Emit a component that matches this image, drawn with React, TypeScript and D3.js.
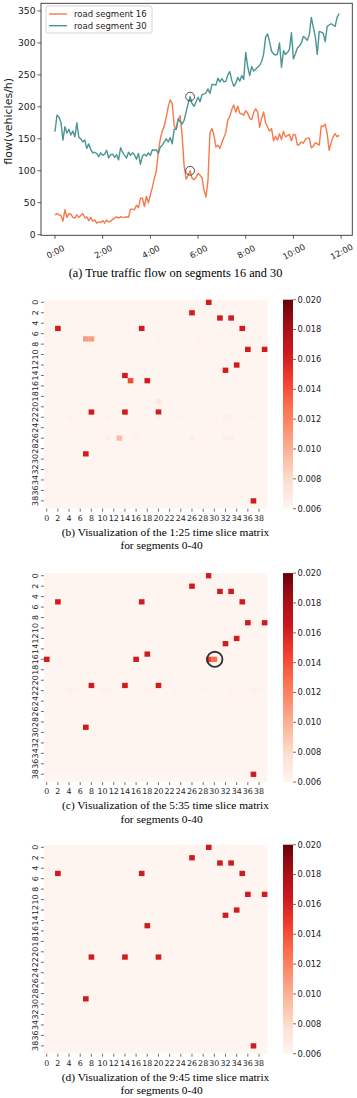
import React from 'react';
import * as d3 from 'd3';

// ---------- DATA ----------
const seriesNames = ['road segment 16', 'road segment 30'];
const stepMinutes = 5;
const timeTickHours = [0, 2, 4, 6, 8, 10, 12];
const timeTickLabels = ['0:00', '2:00', '4:00', '6:00', '8:00', '10:00', '12:00'];
const flowTicks = [0, 50, 100, 150, 200, 250, 300, 350];

const seg16 = [
  31, 33, 31, 30, 21, 39, 27, 33, 32, 27,
  26, 31, 27, 30, 33, 26, 28, 22, 27, 21,
  23, 18, 20, 19, 22, 18, 23, 20, 21, 24,
  26, 28, 26, 28, 27, 27, 28, 27, 40, 40,
  39, 46, 42, 57, 57, 44, 60, 50, 62, 74,
  88, 100, 128, 150, 162, 170, 184, 200, 211, 205,
  170, 165, 180, 186, 155, 108, 87, 93, 100, 88,
  86, 90, 96, 93, 89, 70, 59, 85, 159, 166,
  156, 137, 140, 135, 144, 152, 160, 180, 185, 196,
  203, 192, 201, 190, 189, 187, 194, 190, 182, 180,
  191, 197, 192, 168, 182, 192, 175, 168, 162, 166,
  147, 154, 148, 158, 149, 162, 153, 155, 157, 147,
  157, 156, 140, 141, 145, 143, 149, 151, 151, 136,
  138, 144, 142, 140, 170, 169, 173, 158, 132, 144,
  153, 158, 153, 156,
];

const seg30 = [
  161, 187, 184, 176, 148, 169, 159, 165, 156, 162,
  153, 175, 152, 150, 145, 148, 135, 142, 133, 128,
  129, 127, 122, 128, 124, 126, 132, 120, 125, 126,
  121, 125, 117, 136, 129, 124, 120, 129, 124, 128,
  125, 118, 127, 110, 123, 126, 123, 128, 124, 133,
  132, 133, 127, 137, 140, 145, 150, 145, 152, 142,
  165, 165, 181, 177, 173, 179, 192, 205, 216, 205,
  201, 208, 215, 208, 219, 220, 222, 228, 221, 235,
  235, 234, 245, 239, 244, 239, 240, 250, 255, 241,
  232, 237, 246, 240, 249, 243, 285, 263, 249, 263,
  256, 259, 262, 265, 271, 282, 309, 314, 302, 287,
  283, 281, 283, 300, 262, 288, 282, 285, 290, 316,
  275, 283, 292, 295, 300, 310, 308, 304, 313, 340,
  325, 310, 282, 318, 317, 315, 302, 326, 328, 330,
  328, 326, 340, 346,
];

const circledIndex = 68; // 5:40

const segmentCount = 40;
const segTicks = [0, 2, 4, 6, 8, 10, 12, 14, 16, 18, 20, 22, 24, 26, 28, 30, 32, 34, 36, 38];
const colorTicks = [0.006, 0.008, 0.01, 0.012, 0.014, 0.016, 0.018, 0.02];
const colorDomain = [0.006, 0.02];
const baseValue = 0.005;
const redsStops = ['#fff5f0', '#fee0d2', '#fcbba1', '#fc9272', '#fb6a4a', '#ef3b2c', '#cb181d', '#a50f15', '#67000d'];

// [row, col, value]
const slice0125: [number, number, number][] = [
  [0, 29, 0.0163], [2, 26, 0.0163], [3, 31, 0.0163], [3, 33, 0.0163],
  [5, 2, 0.0163], [5, 17, 0.0163], [5, 35, 0.0163], [7, 7, 0.0109], [7, 8, 0.0109],
  [9, 36, 0.0163], [9, 39, 0.0163], [12, 34, 0.0163], [13, 32, 0.0163],
  [14, 14, 0.0163], [15, 15, 0.0142], [15, 18, 0.0163], [19, 20, 0.0072],
  [21, 8, 0.0163], [21, 14, 0.0163], [21, 20, 0.0163], [26, 13, 0.0095],
  [29, 7, 0.0163], [38, 37, 0.0163],
  [7, 20, 0.0063], [7, 27, 0.0063], [22, 4, 0.0064], [22, 11, 0.0064], [22, 16, 0.0063],
  [22, 20, 0.0064], [22, 24, 0.0063], [22, 30, 0.0063], [22, 32, 0.0065], [22, 33, 0.0064],
  [22, 37, 0.0063], [26, 11, 0.0065], [26, 16, 0.0064], [26, 26, 0.0066], [26, 32, 0.0066],
  [26, 33, 0.0065],
];

const slice0535: [number, number, number][] = [
  [0, 29, 0.0163], [0, 30, 0.0064], [2, 26, 0.0163], [3, 31, 0.0163], [3, 33, 0.0163],
  [5, 2, 0.0163], [5, 17, 0.0163], [5, 35, 0.0163], [9, 36, 0.0163], [9, 39, 0.0163],
  [12, 34, 0.0163], [13, 32, 0.0163], [15, 18, 0.0163], [16, 0, 0.0163], [16, 16, 0.0163],
  [16, 29, 0.0145], [16, 30, 0.0128], [21, 8, 0.0163], [21, 14, 0.0163], [21, 20, 0.0163],
  [29, 7, 0.0163], [38, 37, 0.0163],
  [22, 4, 0.0064], [22, 5, 0.0063], [22, 10, 0.0064], [22, 11, 0.0063], [22, 18, 0.0064],
  [22, 19, 0.0063], [22, 23, 0.0063], [22, 28, 0.0063], [22, 33, 0.0063], [22, 37, 0.0064],
  [22, 38, 0.0063],
];

const slice0945: [number, number, number][] = [
  [0, 29, 0.0163], [2, 26, 0.0163], [3, 31, 0.0163], [3, 33, 0.0163],
  [5, 2, 0.0163], [5, 17, 0.0163], [5, 35, 0.0163], [9, 36, 0.0163], [9, 39, 0.0163],
  [12, 34, 0.0163], [13, 32, 0.0163], [15, 18, 0.0163],
  [21, 8, 0.0163], [21, 14, 0.0163], [21, 20, 0.0163], [29, 7, 0.0163], [38, 37, 0.0163],
];

const highlightCell535: [number, number] = [16, 30];

// ---------- STYLE ----------
const TICK_FONT = 'DejaVu Sans';
const SERIF = '"Liberation Serif", "Times New Roman", serif';
const ORANGE = '#f57a4c';
const TEAL = '#4b9494';
const AXIS = '#333';

const colorScale = d3
  .scaleLinear<string>()
  .domain(d3.range(redsStops.length).map((i) => colorDomain[0] + (i * (colorDomain[1] - colorDomain[0])) / (redsStops.length - 1)))
  .range(redsStops)
  .interpolate(d3.interpolateRgb)
  .clamp(true);

function LineChart() {
  const L = 41, R = 352.3, T = 3.3, B = 235.3;
  const x = d3.scaleLinear().domain([-0.587, 12.47]).range([L, R]);
  const y = d3.scaleLinear().domain([-1, 362]).range([B, T]);
  const hourOf = (i: number) => (i * stepMinutes) / 60;
  const line = d3
    .line<number>()
    .x((_, i) => x(hourOf(i)))
    .y((d) => y(d));
  return (
    <g>
      <path d={line(seg16) || ''} fill="none" stroke={ORANGE} strokeWidth={1.4} strokeLinejoin="round" />
      <path d={line(seg30) || ''} fill="none" stroke={TEAL} strokeWidth={1.4} strokeLinejoin="round" />
      <circle cx={x(hourOf(circledIndex))} cy={y(seg30[circledIndex])} r={4.4} fill="none" stroke="#222" strokeWidth={0.8} />
      <circle cx={x(hourOf(circledIndex))} cy={y(seg16[circledIndex])} r={4.4} fill="none" stroke="#222" strokeWidth={0.8} />
      <rect x={L} y={T} width={R - L} height={B - T} fill="none" stroke={AXIS} strokeWidth={0.9} />
      {flowTicks.map((t) => (
        <g key={t}>
          <line x1={L - 3.5} x2={L} y1={y(t)} y2={y(t)} stroke={AXIS} strokeWidth={0.8} />
          <text x={L - 5.5} y={y(t)} dy="0.35em" textAnchor="end" fontFamily={TICK_FONT} fontSize={9.2} fill="#222">
            {t}
          </text>
        </g>
      ))}
      {timeTickHours.map((h, k) => (
        <g key={h}>
          <line x1={x(h)} x2={x(h)} y1={B} y2={B + 3.5} stroke={AXIS} strokeWidth={0.8} />
          <text
            transform={`translate(${x(h) + 0.5},${B + 16.5}) rotate(-28)`}
            textAnchor="middle"
            dy="0.35em"
            fontFamily={TICK_FONT}
            fontSize={8.4}
            fill="#222"
          >
            {timeTickLabels[k]}
          </text>
        </g>
      ))}
      <text
        transform={`translate(8.5,${(T + B) / 2 + 2}) rotate(-90)`}
        textAnchor="middle"
        dy="0.35em"
        fontFamily={TICK_FONT}
        fontSize={11}
        fill="#222"
      >
        flow(vehicles/h)
      </text>
      {/* legend */}
      <rect x={46} y={6} width={106} height={27} rx={2} fill="white" fillOpacity={0.85} stroke="#ccc" strokeWidth={0.8} />
      {seriesNames.map((name, k) => (
        <g key={name}>
          <line x1={49} x2={67} y1={14 + k * 11.7} y2={14 + k * 11.7} stroke={k === 0 ? ORANGE : TEAL} strokeWidth={1.4} />
          <text x={74} y={14 + k * 11.7} dy="0.35em" fontFamily={TICK_FONT} fontSize={8.5} fill="#222">
            {name}
          </text>
        </g>
      ))}
    </g>
  );
}

function Heatmap({ top, entries, highlight, id }: { top: number; entries: [number, number, number][]; highlight?: [number, number]; id: string }) {
  const left = 43.9;
  const W = 223.5;
  const H = 209;
  const idx = d3.range(segmentCount);
  const xb = d3.scaleBand<number>().domain(idx).range([left, left + W]);
  const yb = d3.scaleBand<number>().domain(idx).range([top, top + H]);
  const matrix: number[][] = idx.map(() => idx.map(() => baseValue));
  entries.forEach(([r, c, v]) => {
    matrix[r][c] = v;
  });
  const cells: { r: number; c: number; v: number }[] = [];
  matrix.forEach((row, r) => row.forEach((v, c) => cells.push({ r, c, v })));

  const cbX = 283;
  const cbW = 10;
  const cy = d3.scaleLinear().domain(colorDomain).range([top + H, top]);
  const gradStops = d3.range(0, 1.0001, 0.125);

  return (
    <g>
      <defs>
        <linearGradient id={id} x1="0" y1="1" x2="0" y2="0">
          {gradStops.map((t) => (
            <stop key={t} offset={t} stopColor={colorScale(colorDomain[0] + t * (colorDomain[1] - colorDomain[0]))} />
          ))}
        </linearGradient>
      </defs>
      <rect x={left} y={top} width={W} height={H} fill={colorScale(baseValue)} />
      {cells
        .filter((d) => d.v > baseValue)
        .map((d) => (
          <rect
            key={`${d.r}-${d.c}`}
            x={xb(d.c)}
            y={yb(d.r)}
            width={xb.bandwidth() + 0.05}
            height={yb.bandwidth() + 0.05}
            fill={colorScale(d.v)}
          />
        ))}
      {segTicks.map((t) => (
        <g key={`x${t}`}>
          <line
            x1={(xb(t) as number) + xb.bandwidth() / 2}
            x2={(xb(t) as number) + xb.bandwidth() / 2}
            y1={top + H}
            y2={top + H + 3}
            stroke={AXIS}
            strokeWidth={0.7}
          />
          <text
            x={(xb(t) as number) + xb.bandwidth() / 2}
            y={top + H + 11.8}
            textAnchor="middle"
            fontFamily={TICK_FONT}
            fontSize={7.9}
            fill="#222"
          >
            {t}
          </text>
        </g>
      ))}
      {segTicks.map((t) => (
        <g key={`y${t}`}>
          <line
            x1={left - 3}
            x2={left}
            y1={(yb(t) as number) + yb.bandwidth() / 2}
            y2={(yb(t) as number) + yb.bandwidth() / 2}
            stroke={AXIS}
            strokeWidth={0.7}
          />
          <text
            transform={`translate(${left - 8.5},${(yb(t) as number) + yb.bandwidth() / 2}) rotate(-90)`}
            textAnchor="middle"
            dy="0.35em"
            fontFamily={TICK_FONT}
            fontSize={7.9}
            fill="#222"
          >
            {t}
          </text>
        </g>
      ))}
      {highlight && (
        <circle
          cx={(xb(highlight[1]) as number) + xb.bandwidth() / 2 + 0.5}
          cy={(yb(highlight[0]) as number) + yb.bandwidth() / 2}
          r={7.6}
          fill="none"
          stroke="#333"
          strokeWidth={1.9}
        />
      )}
      <rect x={cbX} y={top} width={cbW} height={H} fill={`url(#${id})`} />
      {colorTicks.map((t) => (
        <g key={`c${t}`}>
          <line x1={cbX + cbW} x2={cbX + cbW + 3} y1={cy(t)} y2={cy(t)} stroke={AXIS} strokeWidth={0.7} />
          <text x={cbX + cbW + 4.5} y={cy(t)} dy="0.35em" fontFamily={TICK_FONT} fontSize={8.3} fill="#222">
            {t.toFixed(3)}
          </text>
        </g>
      ))}
    </g>
  );
}

function Caption({ x, y, text, size = 11.4 }: { x: number; y: number; text: string; size?: number }) {
  return (
    <text x={x} y={y} textAnchor="middle" fontFamily={SERIF} fontSize={size} fill="#000">
      {text}
    </text>
  );
}

export default function App() {
  return (
    <div style={{ position: 'absolute', left: 0, top: 0 }}>
      <svg width={357} height={1098} viewBox="0 0 357 1098" style={{ display: 'block', background: 'white' }}>
        <LineChart />
        <Caption x={175.5} y={277} text="(a) True traffic flow on segments 16 and 30" size={12.3} />

        <Heatmap top={299.7} entries={slice0125} id="cb1" />
        <Caption x={165.5} y={535.5} text="(b) Visualization of the 1:25 time slice matrix" />
        <Caption x={161.5} y={548.5} text="for segments 0-40" />

        <Heatmap top={573.1} entries={slice0535} highlight={highlightCell535} id="cb2" />
        <Caption x={165.5} y={809} text="(c) Visualization of the 5:35 time slice matrix" />
        <Caption x={161.5} y={822.5} text="for segments 0-40" />

        <Heatmap top={844.7} entries={slice0945} id="cb3" />
        <Caption x={165.5} y={1081} text="(d) Visualization of the 9:45 time slice matrix" />
        <Caption x={161.5} y={1094} text="for segments 0-40" />
      </svg>
    </div>
  );
}
